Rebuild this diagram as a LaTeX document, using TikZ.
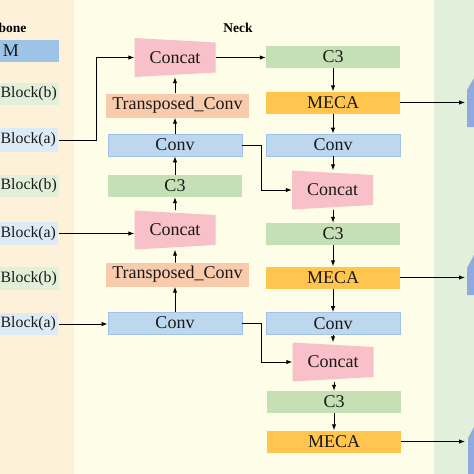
\documentclass[tikz,border=0pt]{standalone}
\usepackage{fontspec}
\setmainfont{Liberation Serif}
\usepackage{tikz}
\usetikzlibrary{positioning, arrows.meta}

\definecolor{backbonebg}{HTML}{FDF1DA}
\definecolor{neckbg}{HTML}{FEFDE7}
\definecolor{headbg}{HTML}{E2EFDA}
\definecolor{convblue}{HTML}{BDD7EE}
\definecolor{convedge}{HTML}{9FC2E6}
\definecolor{cthreegreen}{HTML}{C5E0B4}
\definecolor{tconvorange}{HTML}{F8CBAD}
\definecolor{mecaorange}{HTML}{FFC54F}
\definecolor{catpink}{HTML}{F8C0C8}
\definecolor{blockblue}{HTML}{9DC3E6}
\definecolor{blockbgreen}{HTML}{E2F0D9}
\definecolor{blockablue}{HTML}{DDEBF7}
\definecolor{headblue}{HTML}{8FAADC}

\begin{document}
\begin{tikzpicture}[
        x=1pt, y=-1pt,
        blk/.style={minimum height=22pt, inner sep=0pt, text=black!90,
          font=\fontsize{18}{20}\selectfont},
        conv/.style={blk, fill=convblue, draw=convedge, line width=0.6pt, minimum width=134pt},
        cthree/.style={blk, fill=cthreegreen, minimum width=134pt},
        tconv/.style={blk, fill=tconvorange, minimum width=143pt, minimum height=24pt},
        meca/.style={blk, fill=mecaorange, minimum width=134pt},
        concat/.style={blk, minimum width=81pt, minimum height=39pt,
          path picture={\fill[catpink] (path picture bounding box.north west)
            -- ([yshift=-4.5pt]path picture bounding box.north east)
            -- ([yshift=4.5pt]path picture bounding box.south east)
            -- (path picture bounding box.south west) -- cycle;}},
        bblock/.style={blk, inner xsep=2.5pt, anchor=west, font=\fontsize{15.8}{18}\selectfont},
        title/.style={font=\fontsize{13.5}{16}\selectfont\bfseries, inner sep=0pt},
        link/.style={-{Latex[length=6pt,width=4.5pt]}, line width=1pt},
      ]
      \useasboundingbox (0,0) rectangle (474,474);
      \clip (0,0) rectangle (474,474);
      % panels
      \fill[backbonebg] (0,0) rectangle (74,474);
      \fill[neckbg] (74,0) rectangle (434,474);
      \fill[headbg] (434,0) rectangle (474,474);
      \node[title, anchor=east] (bbtitle) at (26.5,28) {bone};
      \node[title] (necktitle) at (238,28) {Neck};

      % backbone
      \node[blk, fill=blockblue, minimum width=96pt] (bm) at (11,51) {M};
      \node[bblock, fill=blockbgreen] (bb1) at (-2,94) {Block(b)};
      \node[bblock, fill=blockablue, minimum height=24pt] (ba1) at (-2,140) {Block(a)};
      \node[bblock, fill=blockbgreen] (bb2) at (-2,186) {Block(b)};
      \node[bblock, fill=blockablue, minimum height=23pt] (ba2) at (-2,233.5) {Block(a)};
      \node[bblock, fill=blockbgreen, minimum height=23pt] (bb3) at (-2,278.5) {Block(b)};
      \node[bblock, fill=blockablue] (ba3) at (-2,324) {Block(a)};

      % neck, upward column
      \node[concat] (cat1) at (175,57.5) {Concat};
      \node[tconv] (tc1) at (177.5,105.5) {Transposed\_Conv};
      \node[conv] (conv1) at (175,145) {Conv};
      \node[cthree] (c3u) at (175,186) {C3};
      \node[concat] (cat2) at (175,230) {Concat};
      \node[tconv] (tc2) at (177.5,274.5) {Transposed\_Conv};
      \node[conv] (conv2) at (175,323) {Conv};

      % neck, downward column
      \node[cthree] (c3a) at (333,57) {C3};
      \node[meca] (meca1) at (333,102.5) {MECA};
      \node[conv] (conv3) at (333,145) {Conv};
      \node[concat] (cat3) at (332.5,190) {Concat};
      \node[cthree] (c3b) at (333,234) {C3};
      \node[meca] (meca2) at (333,277.5) {MECA};
      \node[conv] (conv4) at (333,323.5) {Conv};
      \node[concat] (cat4) at (333,362) {Concat};
      \node[cthree] (c3c) at (334,402) {C3};
      \node[meca] (meca3) at (334,441.5) {MECA};

      % head
      \fill[headblue] (467,90) -- (474,78) -- (480,78) -- (480,127) -- (467,127) -- cycle;
      \fill[headblue] (467,268) -- (474,255) -- (480,255) -- (480,295) -- (467,295) -- cycle;
      \fill[headblue] (468,438) -- (474,427) -- (480,427) -- (480,480) -- (468,480) -- cycle;
      \coordinate (out1) at (465,102.5);
      \coordinate (out2) at (465,277.5);
      \coordinate (out3) at (465,441.5);

      % connections
      \draw[link] (ba1.east) -- ++(38,0) |- (cat1.west);
      \draw[link] (ba2.east) -- (ba2.east -| cat2.west);
      \draw[link] (ba3.east) -- (ba3.east -| conv2.west);
      \draw[link] (conv2) -- (conv2 |- tc2.south);
      \draw[link] (tc2) -- (tc2.north -| cat2) -- (cat2);
      \draw[link] (cat2) -- (cat2 |- c3u.south);
      \draw[link] (c3u) -- (conv1);
      \draw[link] (conv1) -- (conv1 |- tc1.south);
      \draw[link] (conv1 |- tc1.north) -- (cat1);
      \draw[link] (cat1.east) -- (cat1.east -| c3a.west);
      \draw[link] (c3a) -- (meca1);
      \draw[link] (meca1) -- (conv3);
      \draw[link] (conv3) -- (conv3 |- cat3.north);
      \draw[link] (conv1.east) -- ++(19,0) |- (cat3.west);
      \draw[link] (cat3.south -| c3b) -- (c3b);
      \draw[link] (c3b) -- (meca2);
      \draw[link] (meca2) -- (conv4);
      \draw[link] (conv4) -- (cat4);
      \draw[link] (conv2.east) -- ++(19,0) |- (cat4.west);
      \draw[link] (cat4.south -| c3c) -- (c3c);
      \draw[link] (c3c) -- (meca3);
      \draw[link] (meca1.east) -- (out1);
      \draw[link] (meca2.east) -- (out2);
      \draw[link] (meca3.east) -- (out3);
    \end{tikzpicture}
\end{document}
